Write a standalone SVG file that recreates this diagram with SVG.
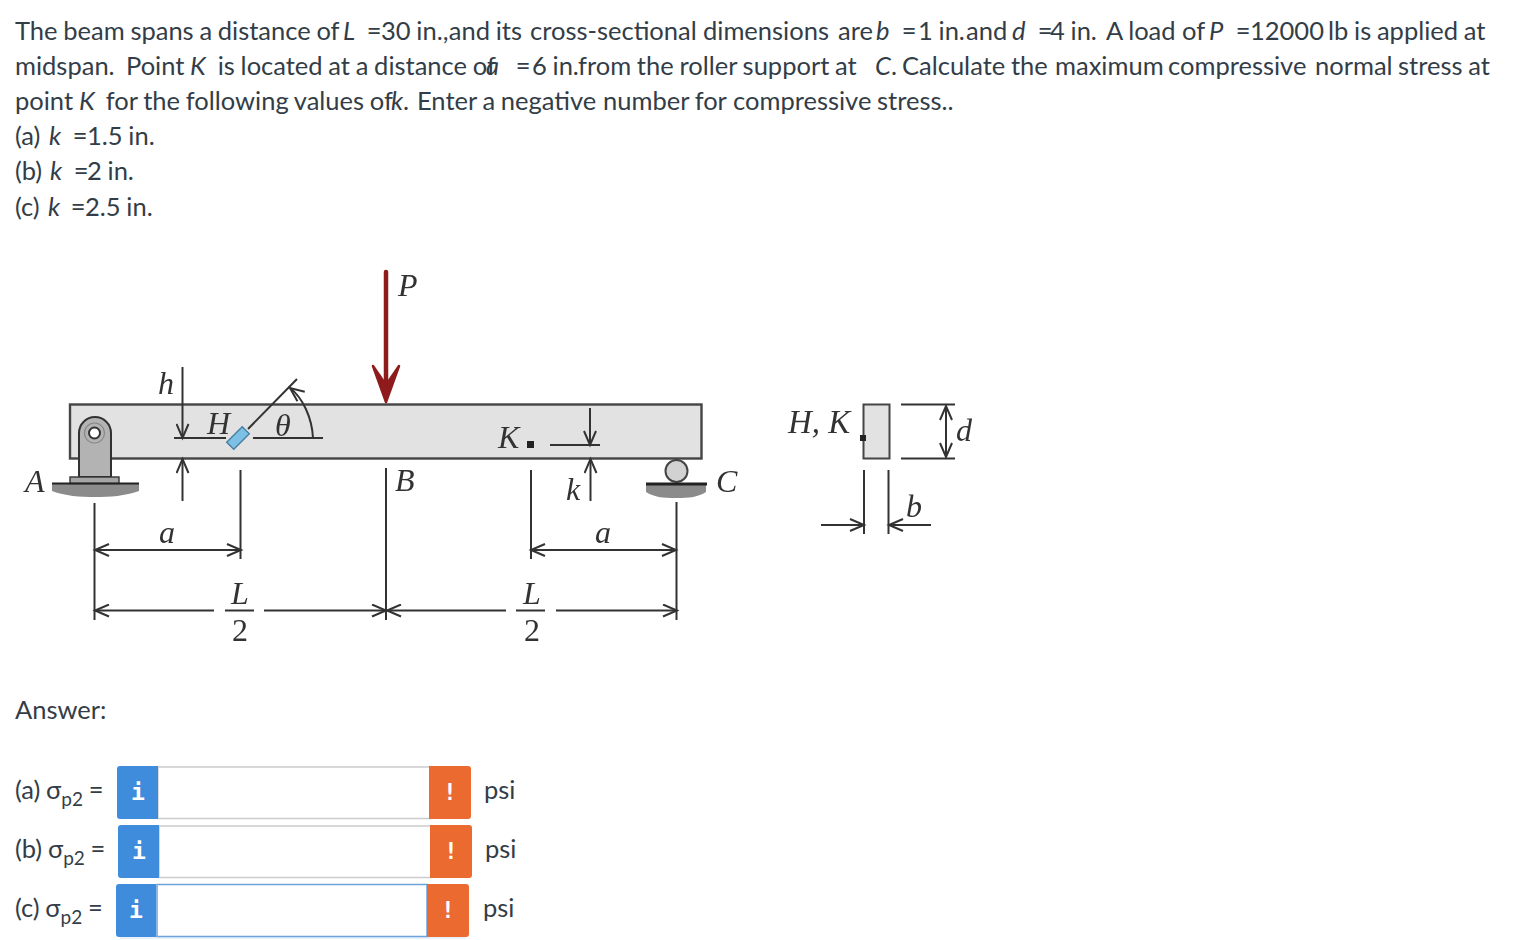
<svg xmlns="http://www.w3.org/2000/svg" width="1516" height="940" viewBox="0 0 1516 940">
<style>
.t{font-family:Lato,"Liberation Sans",sans-serif;font-size:25.500px;word-spacing:-.8px;fill:#333d47;white-space:pre}
.i{font-style:italic}
.f{font-family:"Liberation Serif",serif;font-style:italic;font-size:32px;fill:#333}
.n{font-family:"Liberation Serif",serif;font-size:32px;fill:#333}
.l{stroke:#333;stroke-width:2;fill:none}
.a{stroke:#333;stroke-width:2;fill:none;marker-end:url(#o)}
.s{font-family:Lato,sans-serif;font-size:19px;fill:#333d47}
.b{fill:#3f8cdd}
.r{fill:#eb6a30}
.w{font-family:"DejaVu Sans Mono",monospace;font-weight:bold;font-size:23px;fill:#fff;text-anchor:middle}
.soft{filter:url(#soft)}
</style>
<defs>
<filter id="soft" x="-5%" y="-5%" width="110%" height="110%"><feGaussianBlur stdDeviation=".45"/></filter>
<marker id="o" markerUnits="userSpaceOnUse" markerWidth="18" markerHeight="14" refX="15" refY="7" orient="auto-start-reverse"><path d="M1 1 L15 7 L1 13" fill="none" stroke="#333" stroke-width="2"/></marker>
</defs>
<rect width="1516" height="940" fill="#fff"/>
<g id="problem-text" class="t">
<text x="15" y="40">The beam spans a distance of <tspan class="i" x="343">L</tspan><tspan x="361"> = </tspan><tspan x="381">30 in.,</tspan><tspan x="443"> and its </tspan><tspan x="530">cross-sectional </tspan><tspan x="703">dimensions </tspan><tspan x="838">are </tspan><tspan class="i" x="876">b</tspan><tspan x="896"> = </tspan><tspan x="918">1 in.</tspan><tspan x="966">and </tspan><tspan class="i" x="1012">d</tspan><tspan x="1032"> = </tspan><tspan x="1050">4 in.</tspan><tspan x="1106">A load </tspan><tspan x="1182">of </tspan><tspan class="i" x="1209">P</tspan><tspan x="1230"> = </tspan><tspan x="1250">12000 </tspan><tspan x="1328">lb is applied at</tspan></text>
<text x="15" y="75">midspan.  <tspan x="126">Point </tspan><tspan class="i" x="190">K</tspan><tspan x="212"> is located at a distance of </tspan><tspan class="i" x="486">a</tspan><tspan x="510"> = </tspan><tspan x="532">6 in.</tspan><tspan x="578">from the roller support at </tspan><tspan class="i" x="875">C</tspan>.  <tspan x="902">Calculate the </tspan><tspan x="1055">maximum </tspan><tspan x="1168">compressive </tspan><tspan x="1315">normal </tspan><tspan x="1398">stress at</tspan></text>
<text x="15" y="110">point <tspan class="i" x="79">K</tspan><tspan x="100"> for the following values of </tspan><tspan class="i" x="391">k</tspan>. <tspan x="417">Enter a negative </tspan><tspan x="603">number for </tspan><tspan x="733">compressive </tspan><tspan x="877">stress..</tspan></text>
<text x="15" y="145">(a) <tspan class="i" x="49">k</tspan><tspan x="67"> = </tspan><tspan x="87">1.5 in.</tspan></text>
<text x="15" y="180">(b) <tspan class="i" x="50">k</tspan><tspan x="68"> = </tspan><tspan x="87">2 in.</tspan></text>
<text x="15" y="216">(c) <tspan class="i" x="48">k</tspan><tspan x="65"> = </tspan><tspan x="85">2.5 in.</tspan></text>
<text x="15" y="719">Answer:</text>
</g>
<g id="beam" class="soft"><rect x="70" y="404.500" width="631.500" height="54" fill="#e2e2e2" stroke="#444" stroke-width="2.400"/></g>
<g id="support-A" class="soft">
<path d="M52 484 H139 V491 C125 496 110 497 95 497 C80 497 65 496 52 491Z" fill="#8b8b8b"/>
<path d="M79 477 V433 A16 16 0 0 1 111 433 V477Z" fill="#b3b3b3" stroke="#333" stroke-width="2"/>
<circle cx="94.500" cy="433" r="10" fill="none" stroke="#888" stroke-width="1.200"/>
<circle cx="94.500" cy="433" r="5.500" fill="#fff" stroke="#333" stroke-width="2"/>
<rect x="70" y="477" width="49" height="6.500" fill="#a5a5a5" stroke="#333" stroke-width="1.400"/>
<path d="M52 483.500 H139" stroke="#222" stroke-width="2"/>
<text class="f" x="25" y="492">A</text>
</g>
<g id="point-H" class="soft">
<rect x="-5" y="-11" width="10" height="22" transform="translate(238 438) rotate(45)" fill="#7cc0e6" stroke="#4a7fa0" stroke-width="1.400"/>
<text class="f" x="207" y="434">H</text>
<text class="f" x="275" y="436">θ</text>
</g>
<g id="load-P" class="soft">
<path d="M386 272 V396" stroke="#8e1a1c" stroke-width="4.500" stroke-linecap="round"/>
<path d="M373 366 L386 385 L399 366 L386 402Z" fill="#8e1a1c" stroke="#8e1a1c" stroke-width="2.500" stroke-linejoin="round"/>
<text class="f" x="398" y="296">P</text>
</g>
<g id="point-B" class="soft"><text class="f" x="395" y="491">B</text></g>
<g id="point-K" class="soft">
<text class="f" x="498" y="448">K</text>
<rect x="527" y="441" width="7" height="7" fill="#222"/>
</g>
<g id="support-C" class="soft">
<path d="M646 485 H706 V492 C698 497 690 498 676 498 C662 498 654 497 646 492Z" fill="#8b8b8b"/>
<circle cx="676.500" cy="471" r="11" fill="#d2d2d2" stroke="#444" stroke-width="2"/>
<path d="M646 484 H707" stroke="#222" stroke-width="3"/>
<text class="f" x="716" y="492">C</text>
</g>
<g id="dimension-labels" class="soft">
<text class="f" x="158" y="394">h</text>
<text class="f" x="159" y="543">a</text>
<text class="f" x="595" y="543">a</text>
<text class="f" x="566" y="500">k</text>
<text class="f" x="231" y="604">L</text>
<text class="n" x="232" y="641">2</text>
<text class="f" x="523" y="604">L</text>
<text class="n" x="524" y="641">2</text>
</g>
<g id="section" class="soft">
<rect x="863.500" y="404.500" width="26" height="54" fill="#e2e2e2" stroke="#444" stroke-width="2"/>
<rect x="860" y="435" width="6" height="6" fill="#222"/>
<text class="f" x="788" y="433" style="font-size:33px">H, K</text>
<text class="f" x="956" y="441">d</text>
<text class="f" x="906" y="517">b</text>
</g>
<g id="connectors" class="soft">
<path class="a" d="M182.500 367 V438"/>
<path class="l" d="M174 438 H226 M253 438 H323"/>
<path class="a" d="M182.500 501 V459"/>
<path class="l" d="M248 429 L297 379"/>
<path class="a" d="M313 438 C312 418 303 398 290 388"/>
<path class="l" d="M240.500 470 V559 M94.500 503 V620 M386 468 V620 M531 470 V559 M676.500 502 V620"/>
<path class="a" d="M95 550 H241" style="marker-start:url(#o)"/>
<path class="a" d="M531 550 H676" style="marker-start:url(#o)"/>
<path class="a" d="M214 610.500 H95"/>
<path class="a" d="M264 610.500 H386"/>
<path class="a" d="M506 610.500 H387"/>
<path class="a" d="M556 610.500 H677"/>
<path class="l" d="M225 610.500 H254 M516 610.500 H545"/>
<path class="a" d="M590 408 V445"/>
<path class="l" d="M550 445 H600"/>
<path class="a" d="M590.500 501 V459"/>
<path class="l" d="M901 404.500 H955 M901 458.500 H955 M864 470 V534 M888.500 470 V534"/>
<path class="a" d="M946 406 V457" style="marker-start:url(#o)"/>
<path class="a" d="M821 525 H864"/>
<path class="a" d="M931 525 H889"/>
</g>
<g id="row-a">
<text class="t" x="15" y="799">(a) σ<tspan class="s" dy="7">p2</tspan><tspan dy="-7"> =</tspan></text>
<rect x="158" y="767" width="272" height="51.500" fill="#fff" stroke="#ccc" stroke-width="1.500"/>
<path class="b" d="M120 766 H158 V819 H120 A3 3 0 0 1 117 816 V769 A3 3 0 0 1 120 766Z"/>
<path class="r" d="M429 766 H468 A3 3 0 0 1 471 769 V816 A3 3 0 0 1 468 819 H429Z"/>
<text class="w" x="138" y="800">i</text><text class="w" x="450" y="800">!</text>
<text class="t" x="484" y="799">psi</text>
</g>
<g id="row-b">
<text class="t" x="15" y="858">(b) σ<tspan class="s" dy="7">p2</tspan><tspan dy="-7"> =</tspan></text>
<rect x="159" y="826" width="272" height="51.500" fill="#fff" stroke="#ccc" stroke-width="1.500"/>
<path class="b" d="M121 825 H159 V878 H121 A3 3 0 0 1 118 875 V828 A3 3 0 0 1 121 825Z"/>
<path class="r" d="M430 825 H469 A3 3 0 0 1 472 828 V875 A3 3 0 0 1 469 878 H430Z"/>
<text class="w" x="139" y="859">i</text><text class="w" x="451" y="859">!</text>
<text class="t" x="485" y="858">psi</text>
</g>
<g id="row-c">
<rect x="120" y="886" width="345" height="53" fill="#cfe3f6" opacity=".45"/>
<text class="t" x="15" y="917">(c) σ<tspan class="s" dy="7">p2</tspan><tspan dy="-7"> =</tspan></text>
<rect x="157" y="884.500" width="270" height="52" fill="#fff" stroke="#6ea3dc" stroke-width="1.500"/>
<path class="b" d="M119 884 H156 V937 H119 A3 3 0 0 1 116 934 V887 A3 3 0 0 1 119 884Z"/>
<path class="r" d="M427 884 H466 A3 3 0 0 1 469 887 V934 A3 3 0 0 1 466 937 H427Z"/>
<text class="w" x="136" y="918">i</text><text class="w" x="448" y="918">!</text>
<text class="t" x="483" y="917">psi</text>
</g>
</svg>
